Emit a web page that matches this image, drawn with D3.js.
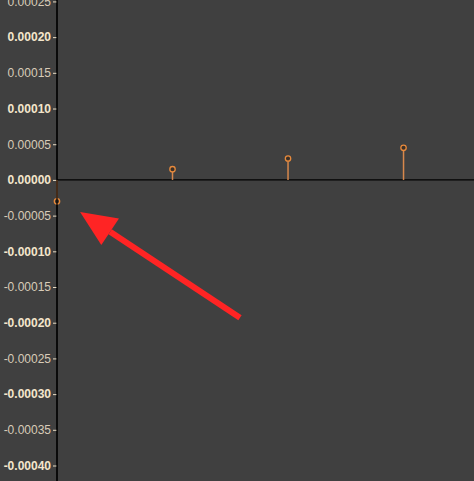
<!DOCTYPE html>
<html>
<head>
<meta charset="utf-8">
<script src="https://cdn.jsdelivr.net/npm/d3@7"></script>
<style>
  html, body { margin: 0; padding: 0; background: #404040; }
  svg { display: block; }
</style>
</head>
<body>
<svg id="chart"></svg>
<script>
// data
const xs = [0, 1, 2, 3];
const ys = [-0.00003, 0.000015, 0.00003, 0.000045];
const yTicks = [0.00025, 0.0002, 0.00015, 0.0001, 0.00005, 0, -0.00005, -0.0001, -0.00015, -0.0002, -0.00025, -0.0003, -0.00035, -0.0004];
const majorTicks = [0.0002, 0.0001, 0, -0.0001, -0.0002, -0.0003, -0.0004];
// annotation arrow, in data units: [tail, tip]
const arrowPts = [[1.584, -0.000193], [0.2, -0.0000448]];

const width = 474, height = 481;
const left = 57;

const svg = d3.select('#chart').attr('width', width).attr('height', height);
svg.append('rect').attr('width', width).attr('height', height).attr('fill', '#404040');

const x = d3.scaleLinear().domain([0, 3.61]).range([left, width]);
const y = d3.scaleLinear().domain([-0.0004217, 0.000252]).range([height, 0]);

// y axis
const isMajor = v => majorTicks.some(m => Math.abs(m - v) < 1e-9);
const yAxis = svg.append('g')
    .attr('transform', `translate(${left},0)`)
    .call(d3.axisLeft(y).tickValues(yTicks).tickSize(4).tickPadding(2)
        .tickFormat(d => (Math.abs(d) < 1e-12 ? 0 : d).toFixed(5)));
yAxis.select('.domain').attr('stroke', '#000').attr('stroke-width', 1.2).attr('d', `M0,0V${height}`);
yAxis.selectAll('.tick line').attr('stroke', '#e8dcc4');
yAxis.selectAll('.tick text')
    .attr('fill', d => isMajor(d) ? '#f4e6cc' : '#d8ccb8')
    .attr('font-family', 'Liberation Sans, Arial, sans-serif')
    .attr('font-size', 12)
    .attr('font-weight', d => isMajor(d) ? 'bold' : 'normal');

// zero line
svg.append('line')
    .attr('x1', left).attr('x2', width)
    .attr('y1', y(0)).attr('y2', y(0))
    .attr('stroke', '#000').attr('stroke-width', 1.2);

const pts = xs.map((v, i) => ({x: v, y: ys[i]}));

// stems
svg.selectAll('.stem').data(pts).join('line')
    .attr('class', 'stem')
    .attr('x1', d => x(d.x)).attr('x2', d => x(d.x))
    .attr('y1', y(0)).attr('y2', d => y(d.y))
    .attr('stroke', '#d8884c').attr('stroke-width', 1.5);

// markers
svg.selectAll('.mark').data(pts).join('circle')
    .attr('class', 'mark')
    .attr('cx', d => x(d.x)).attr('cy', d => y(d.y))
    .attr('r', 2.7)
    .attr('fill', '#3a3028')
    .attr('stroke', '#e88a3c').attr('stroke-width', 1.3);

// axis drawn over the first marker
svg.append('line')
    .attr('x1', left).attr('x2', left).attr('y1', 0).attr('y2', height)
    .attr('stroke', '#000').attr('stroke-width', 1.2);

// red arrow annotation
const tail = [x(arrowPts[0][0]), y(arrowPts[0][1])];
const tip = [x(arrowPts[1][0]), y(arrowPts[1][1])];
const dx = tail[0] - tip[0], dy = tail[1] - tip[1];
const len = Math.hypot(dx, dy);
const ux = dx / len, uy = dy / len;
const headLen = 36, headHalf = 16;
const bx = tip[0] + ux * headLen, by = tip[1] + uy * headLen;

svg.append('line')
    .attr('x1', tail[0]).attr('y1', tail[1])
    .attr('x2', bx).attr('y2', by)
    .attr('stroke', '#ff2424').attr('stroke-width', 6);

svg.append('path')
    .attr('d', `M${tip[0]},${tip[1]}L${bx - uy * headHalf},${by + ux * headHalf}L${bx + uy * headHalf},${by - ux * headHalf}Z`)
    .attr('fill', '#ff2424');
</script>
</body>
</html>
